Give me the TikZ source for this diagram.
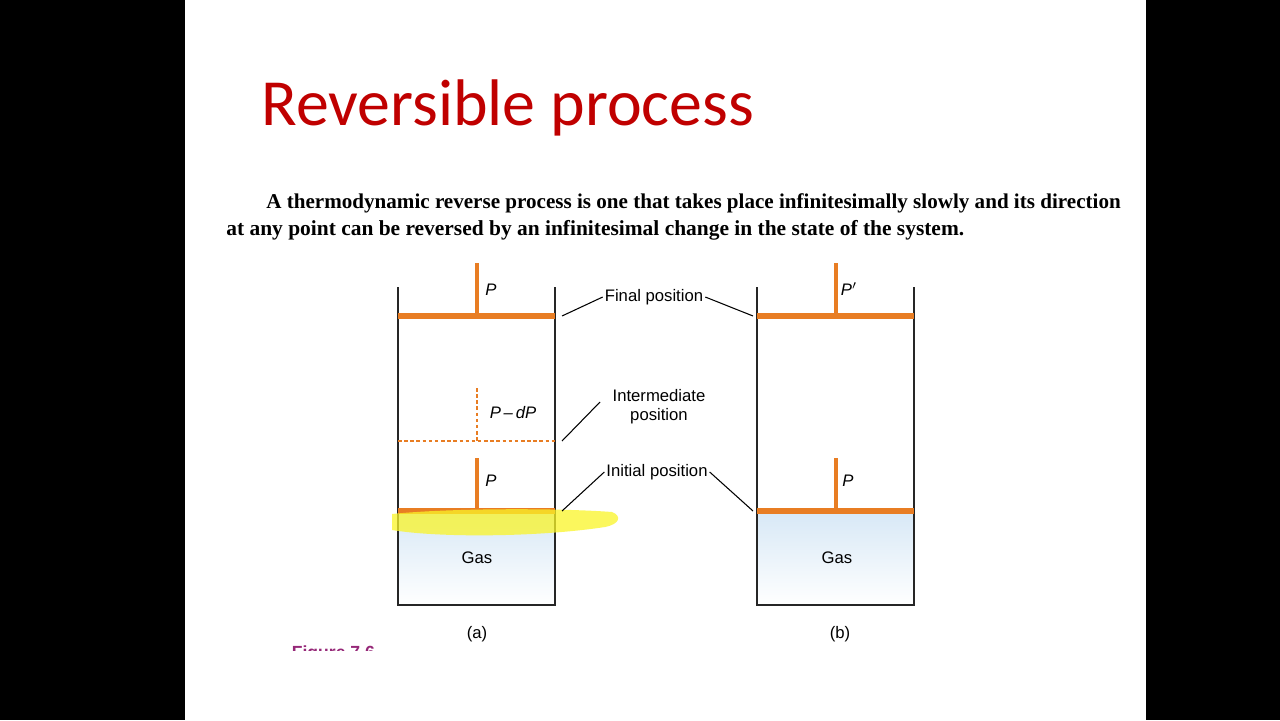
\documentclass[tikz,border=0pt]{standalone}
\usepackage{fontspec}
\setmainfont{Liberation Serif}
\newfontfamily\titlefont{Carlito}
\newfontfamily\figfont{Liberation Sans}
\definecolor{pist}{RGB}{232,125,35}
\definecolor{gasb}{RGB}{215,232,246}
\definecolor{ttl}{RGB}{192,0,0}
\definecolor{hl}{RGB}{250,245,40}
\tikzset{x=0.02cm,y=-0.02cm,
 wall/.style={line width=1.4pt,black!85},
 piston/.style={line width=3.2pt,pist},
 dpiston/.style={line width=1pt,pist,dash pattern=on 2pt off 1.5pt},
 lead/.style={line width=0.6pt,black},
 lbl/.style={font=\figfont\fontsize{9.5}{11}\selectfont,align=center,inner sep=1pt},
 plbl/.style={font=\figfont\itshape\fontsize{9.5}{11}\selectfont,inner sep=0pt}}
\begin{document}
\begin{tikzpicture}
\useasboundingbox (0,0) rectangle (1280,720);
\fill[black] (0,0) rectangle (1280,720);
\fill[white] (185,0) rectangle (1146,720);
\node[anchor=base west,text=ttl,font=\titlefont\fontsize{37.5}{42}\selectfont,inner sep=0] (title) at (261,125) {Reversible process};
\node[anchor=base west,font=\bfseries\fontsize{12}{14}\selectfont,inner sep=0] (p1) at (266,208) {A thermodynamic reverse process is one that takes place infinitesimally slowly and its direction};
\node[anchor=base west,font=\bfseries\fontsize{12.2}{14}\selectfont,inner sep=0] (p2) at (226,235) {at any point can be reversed by an infinitesimal change in the state of the system.};
% gas fills
\shade[top color=gasb,bottom color=white] (398,511) rectangle (555,605);
\shade[top color=gasb,bottom color=white] (757,511) rectangle (914,605);
% cylinders
\draw[wall] (398,287) -- (398,605) -- (555,605) -- (555,287);
\draw[wall] (757,287) -- (757,605) -- (914,605) -- (914,287);
% pistons a
\draw[piston] (398,316) -- (555,316);
\draw[line width=2.2pt,pist] (477,263) -- (477,314);
\node[plbl] (pa1) at (491,290) {P};
\draw[dpiston] (398,441) -- (555,441);
\draw[dpiston] (477,388) -- (477,441);
\node[plbl] (pa2) at (513,413) {P\,–\,dP};
\draw[piston] (398,511) -- (555,511);
\draw[line width=2.2pt,pist] (477,458) -- (477,509);
\node[plbl] (pa3) at (491,481) {P};
\node[lbl] (gasa) at (477,558) {Gas};
% highlighter
\fill[hl,opacity=0.75] (392,514) .. controls (450,508) and (560,508) .. (612,512) .. controls (622,516) and (620,524) .. (605,527) .. controls (540,537) and (440,538) .. (392,530) -- cycle;
% pistons b
\draw[piston] (757,316) -- (914,316);
\draw[line width=2.2pt,pist] (836,263) -- (836,314);
\node[plbl] (pb1) at (849,289) {P$'$};
\draw[piston] (757,511) -- (914,511);
\draw[line width=2.2pt,pist] (836,458) -- (836,509);
\node[plbl] (pb3) at (848,481) {P};
\node[lbl] (gasb) at (837,558) {Gas};
% labels
\node[lbl] (fin) at (654,297) {Final position};
\node[lbl] (int) at (659,407) {Intermediate\\position};
\node[lbl] (ini) at (657,472) {Initial position};
\coordinate (fa) at (562,316); \coordinate (fb) at (753,316);
\coordinate (ia) at (562,441);
\coordinate (na) at (562,511); \coordinate (nb) at (753,511);
\draw[lead] (fa) -- (fin.west); \draw[lead] (fin.east) -- (fb);
\draw[lead] (ia) -- (600,402);
\draw[lead] (na) -- (ini.west); \draw[lead] (ini.east) -- (nb);
\node[lbl] (ca) at (477,634) {(a)};
\node[lbl] (cb) at (840,634) {(b)};
\node[anchor=west,text={rgb,255:red,150;green,40;blue,120},font=\figfont\bfseries\fontsize{10}{12}\selectfont,inner sep=0] (fig) at (278,654) {\rule{6pt}{3pt}\,Figure 7.6};
\fill[white] (270,651) rectangle (420,670);
\end{tikzpicture}
\end{document}
